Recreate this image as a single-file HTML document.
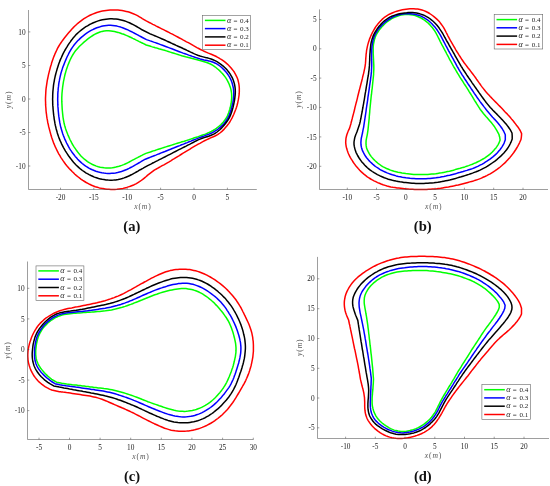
<!DOCTYPE html>
<html lang="en"><head><meta charset="utf-8"><title>Figure</title>
<style>
html,body{margin:0;padding:0;background:#fff;}
body{width:550px;height:486px;overflow:hidden;}
svg{display:block;}
text{font-family:"Liberation Serif","DejaVu Serif",serif;fill:#3a3a3a;}
.tk{font-size:7.3px;fill:#1c1c1c;}
.al{font-size:7.6px;letter-spacing:0.9px;fill:#555;}
.it{font-style:italic;}
.lg{font-size:7px;fill:#222;}
.eq{font-size:8.6px;}
.al2{font-size:8px;}
.cap{font-size:14.6px;font-weight:bold;fill:#111;}
</style></head><body>
<svg width="550" height="486" viewBox="0 0 550 486">
<rect width="550" height="486" fill="#fff"/>
<g class="plot" id="plot-a">
<path d="M65.5 72.7L66.1 70.6L66.7 68.7L67.3 66.9L68 65.1L68.7 63.4L69.4 61.6L70.2 59.8L71 58.1L71.9 56.3L73 54.5L74.2 52.6L75.5 50.8L76.9 49.2L78.2 47.7L79.5 46.3L80.9 45L82.3 43.7L83.7 42.4L85.2 41.2L86.7 39.9L88.2 38.7L89.6 37.6L91.1 36.6L92.8 35.5L94.6 34.4L96.4 33.5L98.2 32.7L100 32L102 31.4L104.1 31L106.4 30.8L108.8 30.7L111 30.9L112.8 31.2L114.5 31.5L116.2 31.9L118.1 32.4L120 33L121.9 33.7L123.8 34.3L125.6 35.1L127.5 35.9L129.3 36.7L131.1 37.5L132.8 38.4L134.6 39.2L136.3 40.1L137.9 40.9L139.3 41.6L140.6 42.2L141.7 42.8L142.6 43.2L146.2 45L150.7 46.3L151.5 46.6L152.6 46.9L153.9 47.2L155.3 47.7L157 48.1L158.8 48.7L160.7 49.2L162.6 49.8L164.5 50.3L166.4 50.9L168.3 51.5L170.2 52.1L172.1 52.7L174 53.3L175.9 53.9L177.9 54.5L179.8 55.1L181.7 55.7L183.6 56.2L185.6 56.8L187.5 57.3L189.5 57.8L191.4 58.3L193.3 58.8L195.2 59.3L197.2 59.8L199 60.3L200.8 60.7L202.6 61.2L204.2 61.7L205.9 62.2L208 63L210.4 64L212.5 65.2L214.3 66.3L215.9 67.5L217.3 68.7L218.6 69.8L220 71.1L221.3 72.5L222.6 73.8L223.8 75.3L225.1 76.9L226.3 78.7L227.3 80.4L228.2 82.1L229.1 84L229.8 85.9L230.4 87.6L230.9 89.4L231.3 91.5L231.6 93.7L231.7 95.8L231.7 98.1L231.5 100.1L231.3 101.8L231.1 103.5L230.7 105.3L230.3 107.3L229.8 109.3L229.2 111.1L228.7 112.7L228 114.4L227.3 116.1L226.3 118L224.7 120.3L223.2 122.3L221.9 123.6L220.7 124.8L219.3 126L217.9 127.2L216.4 128.3L214.8 129.4L213.1 130.5L211.2 131.5L209.3 132.4L207.3 133.3L205.4 134.1L203.6 134.7L201.9 135.3L200.1 135.9L198.3 136.6L196.4 137.2L194.5 137.8L192.6 138.5L190.7 139.1L188.8 139.8L186.9 140.4L185 141L183.1 141.6L181.2 142.1L179.2 142.7L177.3 143.3L175.4 143.9L173.5 144.5L171.6 145.1L169.7 145.7L167.8 146.3L165.9 146.9L163.9 147.5L162 148.1L160.2 148.7L158.3 149.3L156.5 149.9L154.9 150.5L153.4 150.9L152.2 151.3L151.1 151.7L150.3 152L145.9 153.4L142.2 155.2L141.3 155.6L140.3 156.2L138.9 156.8L137.5 157.6L135.9 158.4L134.2 159.3L132.5 160.2L130.8 161.1L129.2 162L127.6 162.8L125.7 163.7L123.7 164.6L121.7 165.4L119.9 166L118 166.6L115.9 167.1L114.1 167.4L112.3 167.7L110.3 167.9L108.1 168L106 167.9L104.2 167.8L102.2 167.5L100.2 167.2L98.3 166.7L96.4 166.1L94.3 165.3L92.5 164.5L90.9 163.6L89.2 162.7L87.5 161.6L86 160.4L84.4 159.2L82.8 157.7L81.2 156.2L79.9 154.7L78.7 153.3L77.5 151.8L76.4 150.3L75.3 148.7L74.2 147.1L73.1 145.3L72 143.5L71.1 141.7L70.2 140L69.4 138.2L68.6 136.4L67.8 134.6L67.1 132.8L66.4 130.9L65.7 129L65.1 127.1L64.6 125.3L64.1 123.3L63.7 121.1L63.3 119L63 117.1L62.8 115.2L62.6 113.3L62.4 111.3L62.2 109.3L62.1 107.4L62 105.4L61.9 103.4L61.8 101.4L61.8 99.4L61.8 97.4L61.9 95.3L62 93.3L62.2 91.3L62.4 89.4L62.6 87.4L62.9 85.4L63.2 83.4L63.5 81.4L63.9 79.6L64.3 77.7L64.7 75.8L65.2 73.8Z" fill="none" stroke="#00ff00" stroke-width="1.5" stroke-linejoin="round"/>
<path d="M61.1 72.7L61.8 70.6L62.4 68.6L63 66.8L63.7 65.1L64.4 63.3L65.1 61.5L65.9 59.6L66.7 57.7L67.5 56L68.4 54.3L69.2 52.6L70.2 50.8L71.3 49L72.4 47.4L73.5 45.8L74.9 44L76.4 42.3L77.7 40.8L79 39.6L80.2 38.4L81.6 37.1L83.2 35.8L85 34.4L86.7 33.2L88.2 32.2L89.8 31.2L91.6 30.2L93.4 29.3L95.1 28.5L96.8 27.8L98.7 27.2L100.7 26.6L102.7 26.1L104.5 25.7L106.6 25.5L108.7 25.3L110.6 25.3L112.6 25.4L114.9 25.7L117 26.1L118.8 26.6L120.7 27.1L122.6 27.8L124.4 28.5L126.2 29.2L127.9 29.9L129.7 30.8L131.6 31.7L133.3 32.6L135 33.5L136.6 34.3L138.1 35.1L139.4 35.9L140.6 36.5L141.6 37L142.4 37.5L146.5 39.6L150.3 40.9L151.3 41.2L152.4 41.6L153.7 42.1L155.3 42.6L157 43.2L158.8 43.9L160.6 44.6L162.5 45.3L164.4 46L166.3 46.7L168.1 47.4L170 48.1L171.9 48.8L173.7 49.5L175.6 50.3L177.5 51L179.3 51.7L181.2 52.4L183.1 53.1L185 53.7L186.9 54.4L188.7 55.1L190.6 55.7L192.4 56.4L194.2 57L196 57.6L198.1 58.3L200.1 58.9L202.1 59.4L204 59.9L205.7 60.2L207.1 60.5L208.8 60.9L211 61.5L213.3 62.3L215.4 63.2L217.5 64.4L219.1 65.5L220.5 66.5L221.9 67.8L223.3 69.1L224.6 70.4L225.8 71.8L227.2 73.5L228.3 75.1L229.3 76.7L230.2 78.4L231.2 80.4L231.9 82.3L232.4 84L232.9 86L233.4 88.2L233.6 90.1L233.7 92L233.8 94L233.7 96.1L233.5 98.1L233.3 100.1L232.9 102.2L232.5 104L232.1 105.8L231.7 107.5L231.2 109.3L230.7 110.9L230.1 112.7L229.4 114.8L228.4 116.9L227.5 118.6L226.5 120.3L225.1 122.2L223.7 123.9L222.5 125.2L221.2 126.4L219.8 127.7L218.2 129L216.6 130.1L214.9 131.2L212.9 132.3L210.9 133.3L209.1 134.1L207.4 134.8L205.6 135.4L203.9 136.1L202.1 136.7L200.2 137.4L198.3 138.1L196.5 138.9L194.6 139.6L192.8 140.3L190.9 141.1L189.1 141.8L187.2 142.6L185.4 143.3L183.5 144.1L181.6 144.8L179.8 145.6L177.9 146.3L176.1 147L174.2 147.8L172.3 148.5L170.5 149.3L168.6 150L166.8 150.7L164.9 151.5L163 152.2L161.2 152.9L159.3 153.7L157.5 154.4L155.8 155.1L154.2 155.7L152.7 156.3L151.5 156.7L150.5 157.1L149.6 157.5L145.3 159.2L141.8 161.2L141 161.7L139.9 162.3L138.7 163L137.3 163.8L135.8 164.7L134.2 165.6L132.5 166.6L130.7 167.5L129 168.4L127.3 169.2L125.4 170L123.4 170.8L121.5 171.5L119.6 172L117.6 172.5L115.5 172.9L113.6 173.2L111.8 173.3L109.8 173.4L107.7 173.4L105.7 173.3L103.9 173.1L101.8 172.8L99.6 172.3L97.7 171.8L95.9 171.2L94.1 170.5L92.3 169.8L90.6 169L88.9 168.1L87.1 167L85.3 165.8L83.7 164.7L82.2 163.5L80.7 162.1L79.1 160.6L77.7 159.2L76.5 157.8L75.2 156.4L74 154.8L72.8 153.2L71.7 151.7L70.6 150.1L69.5 148.3L68.4 146.4L67.5 144.7L66.6 143L65.8 141.2L64.9 139.4L64.2 137.5L63.4 135.6L62.8 133.9L62.2 132L61.6 130L61 128.1L60.5 126.1L60.1 124.2L59.7 122.2L59.4 120.1L59.1 118.1L58.8 116.2L58.6 114.3L58.4 112.3L58.2 110.3L58.1 108.4L57.9 106.4L57.8 104.4L57.8 102.4L57.7 100.4L57.7 98.4L57.8 96.4L57.8 94.3L57.9 92.4L58.1 90.4L58.2 88.5L58.5 86.4L58.7 84.4L59 82.3L59.4 80.4L59.7 78.6L60.1 76.8L60.6 74.8Z" fill="none" stroke="#0000ff" stroke-width="1.5" stroke-linejoin="round"/>
<path d="M56.1 72.6L56.7 70.6L57.2 68.7L57.8 66.9L58.4 65.1L59 63.3L59.7 61.4L60.5 59.4L61.4 57.5L62.2 55.6L63 53.9L63.9 52.2L64.8 50.5L65.9 48.6L67 46.9L68 45.2L69 43.6L70.1 42.1L71.2 40.5L72.4 39L73.6 37.4L75.1 35.8L76.6 34.1L78.1 32.7L79.5 31.5L80.9 30.4L82.5 29.1L84.2 27.8L85.9 26.7L87.5 25.8L89.1 24.8L91 23.9L92.8 23L94.6 22.3L96.2 21.6L98.2 20.9L100.3 20.3L102.4 19.8L104.2 19.5L106 19.2L108 19L110.1 18.8L112 18.8L113.9 18.9L116 19L118 19.3L120 19.7L122.2 20.2L124.2 20.8L126 21.4L127.7 22.1L129.4 22.8L131.3 23.7L133.2 24.6L135 25.6L136.6 26.5L138 27.3L139.4 28.1L140.6 28.9L141.6 29.5L142.5 30L150.2 33.9L151.1 34.2L152.1 34.6L153.3 35.1L154.7 35.7L156.3 36.4L158 37.1L159.8 37.9L161.6 38.7L163.5 39.5L165.3 40.3L167.1 41.2L168.9 42L170.7 42.8L172.5 43.7L174.4 44.5L176.2 45.4L178 46.2L179.8 47L181.6 47.8L183.5 48.7L185.3 49.5L187.1 50.4L188.8 51.2L190.6 52.1L192.3 52.8L193.9 53.6L195.6 54.4L197.7 55.2L200 56L202.2 56.6L204 57.1L205.5 57.5L207 57.8L209 58.4L211.1 59L213 59.8L215 60.6L217 61.7L218.8 62.8L220.2 63.8L221.6 64.9L223.2 66.1L224.7 67.5L226 68.8L227.2 70.1L228.5 71.7L229.9 73.6L230.9 75.3L231.8 76.9L232.7 78.7L233.4 80.6L234 82.4L234.5 84.2L234.9 86.4L235.2 88.7L235.3 90.7L235.3 92.6L235.2 94.6L235 96.4L234.8 98.3L234.5 100.3L234.1 102.4L233.7 104.3L233.3 106.1L232.9 107.9L232.4 109.5L232 111.1L231.4 112.8L230.6 114.9L229.4 117.6L228.1 119.8L227.1 121.3L226.2 122.5L225.3 123.8L224.1 125.2L222.7 126.8L221.2 128.4L219.8 129.7L218.5 130.8L217.1 132L215.6 133L213.7 134.1L211.1 135.3L208.6 136.3L207.1 136.7L205.9 137L204.2 137.6L202.2 138.3L200.1 139.1L198.1 139.9L196.4 140.8L194.7 141.6L193.1 142.5L191.3 143.4L189.6 144.3L187.8 145.2L186.1 146.1L184.3 147L182.5 147.9L180.7 148.8L178.9 149.7L177.1 150.6L175.4 151.5L173.6 152.4L171.8 153.4L170 154.3L168.2 155.2L166.4 156.1L164.7 157L162.9 157.9L161.1 158.8L159.3 159.7L157.6 160.6L156 161.4L154.6 162.1L153.3 162.8L152.2 163.3L151.3 163.8L147.7 165.6L143.6 167.9L142.9 168.3L141.9 168.8L140.8 169.5L139.4 170.2L138 171.1L136.4 172L134.8 172.9L133.1 173.8L131.3 174.8L129.4 175.7L127.6 176.5L125.9 177.2L124.1 177.9L122.3 178.5L120.5 179L118.2 179.5L115.7 179.9L113.6 180.1L111.9 180.2L110.2 180.2L108.2 180.1L106 179.9L104 179.6L102.2 179.3L100.5 178.9L98.6 178.5L96.5 177.8L94.4 177.1L92.6 176.3L90.9 175.5L89.1 174.6L87.4 173.7L85.8 172.8L84.2 171.7L82.4 170.5L80.7 169.2L79.2 167.9L77.8 166.6L76.3 165.2L74.9 163.7L73.5 162.2L72.3 160.7L71.2 159.3L70 157.7L68.7 156L67.6 154.3L66.5 152.7L65.5 151.1L64.5 149.3L63.5 147.6L62.6 145.8L61.7 144.1L60.9 142.3L60 140.4L59.2 138.4L58.5 136.5L57.9 134.7L57.3 132.9L56.8 131L56.2 129L55.8 127.1L55.3 125.2L54.9 123.2L54.6 121.1L54.2 119.1L54 117.1L53.7 115.2L53.5 113.3L53.3 111.3L53.1 109.3L53 107.4L52.8 105.4L52.7 103.4L52.7 101.3L52.6 99.3L52.7 97.3L52.7 95.3L52.8 93.3L52.9 91.4L53.1 89.5L53.3 87.5L53.5 85.4L53.8 83.3L54.2 81.3L54.5 79.4L54.9 77.6L55.3 75.7L55.8 73.7Z" fill="none" stroke="#000000" stroke-width="1.5" stroke-linejoin="round"/>
<path d="M49 72.6L49.5 70.6L50 68.7L50.5 66.8L51.1 65L51.6 63.1L52.2 61.3L52.9 59.3L53.6 57.3L54.4 55.4L55.1 53.6L55.9 51.9L56.7 50.2L57.5 48.4L58.6 46.5L59.7 44.6L60.8 43L61.9 41.4L63.1 39.7L64.4 38L65.6 36.5L66.8 35L68 33.6L69.3 32.1L70.5 30.7L71.7 29.3L73 27.9L74.6 26.3L76.3 24.7L77.8 23.3L79.3 22.2L80.7 21.1L82.3 19.9L84 18.7L85.8 17.6L87.4 16.7L88.9 15.8L90.6 15L92.6 14.1L94.9 13.2L96.8 12.5L98.6 12L100.3 11.5L102.3 11.1L104.2 10.7L106.1 10.4L108 10.2L110.1 10L112.3 9.9L114.4 9.9L116.2 10L117.9 10.1L119.8 10.3L122.1 10.6L124.3 11L126.2 11.4L127.9 11.8L129.6 12.3L131.4 13L133.3 13.7L135.4 14.6L137.5 15.7L139.4 16.8L140.9 17.7L142.3 18.6L144 19.6L145.8 20.7L147.6 21.6L149.3 22.5L151.1 23.4L152.8 24.3L154.6 25.2L156.3 26.1L158.1 27L159.9 27.9L161.7 28.8L163.5 29.7L165.3 30.6L167.1 31.5L168.9 32.4L170.6 33.3L172.4 34.2L174.2 35.2L176 36.1L177.7 37L179.5 38L181.3 38.9L183 39.9L184.8 40.8L186.5 41.8L188.3 42.7L190.1 43.7L191.8 44.7L193.5 45.7L195.2 46.6L196.9 47.6L198.7 48.5L200.5 49.5L202.4 50.4L204.2 51.3L206 52.1L207.8 52.9L209.6 53.6L211.3 54.3L212.9 55L214.7 55.8L216.8 56.8L218.7 57.8L220.3 58.8L222 59.8L223.8 61.1L225.4 62.4L226.8 63.6L228.1 64.8L229.5 66.2L230.9 67.7L232.1 69.2L233.2 70.6L234.4 72.3L235.5 74.3L236.4 76.1L237.2 77.8L237.9 79.8L238.4 81.8L238.8 83.6L239.1 85.6L239.3 87.9L239.3 90L239.3 91.9L239.2 93.7L239 95.6L238.7 97.5L238.4 99.4L238 101.4L237.6 103.3L237.1 105.2L236.5 107.2L235.8 109.2L235.1 111L234.4 112.8L233.7 114.5L232.9 116.2L232.1 117.8L231.2 119.5L230.1 121.5L228.7 123.6L227.4 125.3L226.4 126.6L225.3 127.8L224.2 129.1L222.9 130.4L221.6 131.7L219.9 133L217.6 134.6L215 136L213.3 136.8L212 137.3L210.6 137.9L208.8 138.7L206.9 139.6L205 140.5L203.3 141.4L201.6 142.3L199.9 143.3L198.2 144.2L196.5 145.2L194.7 146.2L193 147.2L191.3 148.2L189.6 149.3L187.8 150.3L186.1 151.3L184.4 152.4L182.7 153.4L181 154.5L179.3 155.6L177.6 156.6L175.9 157.7L174.3 158.7L172.5 159.7L170.8 160.8L169.1 161.8L167.3 162.8L165.6 163.8L163.9 164.8L162.2 165.7L160.5 166.7L159 167.5L157.5 168.3L156.3 169L155.2 169.6L154.3 170.2L147.4 175.4L146.9 175.9L146.2 176.5L145.2 177.3L144 178.3L142.7 179.4L141.2 180.5L139.5 181.7L137.6 182.8L135.9 183.8L134.2 184.7L132.3 185.5L130.3 186.3L128.4 186.9L126.7 187.4L124.8 187.9L123 188.4L121.2 188.7L119.2 189L116.9 189.3L114.7 189.4L112.7 189.5L110.9 189.4L109 189.3L106.9 189.2L105 188.9L103.1 188.6L101.4 188.3L99.4 187.9L97.3 187.3L95.3 186.7L93.5 186L91.6 185.2L89.6 184.3L87.9 183.4L86.2 182.5L84.6 181.5L82.8 180.4L81.2 179.3L79.7 178.2L78.2 177L76.5 175.6L74.9 174.2L73.5 172.8L72.1 171.5L70.8 170.1L69.4 168.7L68.1 167.2L66.8 165.7L65.6 164.2L64.5 162.7L63.2 160.9L62 159.1L60.8 157.4L59.9 155.7L58.9 154.1L58 152.4L57.1 150.6L56.2 148.7L55.3 146.9L54.6 145.2L53.8 143.4L53.1 141.5L52.4 139.5L51.7 137.5L51.1 135.6L50.6 133.8L50.1 131.9L49.6 130L49.1 128.1L48.6 126.2L48.2 124.2L47.7 122.2L47.4 120.2L47 118.2L46.7 116.3L46.5 114.3L46.2 112.3L46 110.3L45.9 108.3L45.7 106.3L45.6 104.4L45.6 102.4L45.5 100.4L45.5 98.4L45.6 96.3L45.7 94.3L45.8 92.3L45.9 90.4L46.1 88.4L46.4 86.4L46.7 84.3L47 82.3L47.3 80.4L47.7 78.5L48.1 76.6L48.5 74.6Z" fill="none" stroke="#ff0000" stroke-width="1.5" stroke-linejoin="round"/>
<path d="M28.5 10V189.5H256.8M60.5 189.5v-1.8M93.8 189.5v-1.8M127.2 189.5v-1.8M160.6 189.5v-1.8M194 189.5v-1.8M227.4 189.5v-1.8M28.5 31.9h1.8M28.5 65.5h1.8M28.5 99h1.8M28.5 132.5h1.8M28.5 166h1.8" fill="none" stroke="#4d4d4d" stroke-width="0.55"/>
<text class="tk" x="60.5" y="199.9" text-anchor="middle">-20</text>
<text class="tk" x="93.8" y="199.9" text-anchor="middle">-15</text>
<text class="tk" x="127.2" y="199.9" text-anchor="middle">-10</text>
<text class="tk" x="160.6" y="199.9" text-anchor="middle">-5</text>
<text class="tk" x="194" y="199.9" text-anchor="middle">0</text>
<text class="tk" x="227.4" y="199.9" text-anchor="middle">5</text>
<text class="tk" x="25.6" y="34.5" text-anchor="end">10</text>
<text class="tk" x="25.6" y="68.1" text-anchor="end">5</text>
<text class="tk" x="25.6" y="101.6" text-anchor="end">0</text>
<text class="tk" x="25.6" y="135.1" text-anchor="end">-5</text>
<text class="tk" x="25.6" y="168.6" text-anchor="end">-10</text>
<text class="al" x="142.9" y="208.6" text-anchor="middle"><tspan class="it">x</tspan>(<tspan class="it">m</tspan>)</text>
<text class="al" transform="translate(10.8 99.4) rotate(-90)" text-anchor="middle"><tspan class="it">y</tspan>(<tspan class="it">m</tspan>)</text>
<rect x="202.6" y="15.3" width="48" height="34.3" fill="#fff" stroke="#666" stroke-width="0.6"/>
<path d="M204.9 20.4h20.6" stroke="#00ff00" stroke-width="1.5"/>
<text class="lg" y="22.5"><tspan class="it al2" x="226.9">α</tspan><tspan x="233.5">=</tspan><tspan x="240.1">0.4</tspan></text>
<path d="M204.9 28.6h20.6" stroke="#0000ff" stroke-width="1.5"/>
<text class="lg" y="30.7"><tspan class="it al2" x="226.9">α</tspan><tspan x="233.5">=</tspan><tspan x="240.1">0.3</tspan></text>
<path d="M204.9 36.9h20.6" stroke="#000000" stroke-width="1.5"/>
<text class="lg" y="39"><tspan class="it al2" x="226.9">α</tspan><tspan x="233.5">=</tspan><tspan x="240.1">0.2</tspan></text>
<path d="M204.9 45.2h20.6" stroke="#ff0000" stroke-width="1.5"/>
<text class="lg" y="47.3"><tspan class="it al2" x="226.9">α</tspan><tspan x="233.5">=</tspan><tspan x="240.1">0.1</tspan></text>
<text class="cap" x="131.8" y="231.2" text-anchor="middle">(a)</text>
</g>
<g class="plot" id="plot-b">
<path d="M373.6 73.4L373.7 71.4L373.8 69.4L373.8 67.4L373.8 65.3L373.7 63.2L373.6 61.2L373.5 59.3L373.4 57.4L373.3 55.4L373.2 53.5L373.2 51.5L373.2 49.6L373.2 47.8L373.3 46L373.5 44L373.9 42L374.4 39.8L375.1 37.6L375.9 35.5L376.9 33.6L377.9 32L379 30.4L380.1 28.9L381.3 27.5L382.5 26.1L383.9 24.7L385.4 23.3L386.9 22L388.4 20.9L390 19.8L391.7 18.7L393.4 17.8L395.2 17L397.3 16.2L399.2 15.6L401.1 15.1L403 14.8L404.9 14.6L406.8 14.5L408.8 14.5L410.8 14.7L413 15.1L415.2 15.6L417.1 16.3L418.8 17L420.3 17.7L421.9 18.5L423.5 19.5L425.4 20.8L427.3 22.3L428.7 23.6L430 24.9L431.3 26.4L432.5 27.8L433.5 29.2L434.7 30.9L435.9 32.9L437 35L437.9 36.7L438.6 38.2L439.5 39.9L440.3 41.6L441.2 43.4L442.1 45.2L443.1 46.9L444 48.7L444.9 50.4L445.9 52.2L446.8 54L447.7 55.7L448.7 57.5L449.6 59.3L450.6 61L451.6 62.8L452.5 64.5L453.5 66.3L454.5 68L455.5 69.7L456.5 71.5L457.5 73.2L458.6 74.9L459.6 76.6L460.7 78.3L461.8 80L462.9 81.7L463.9 83.4L465 85L466.1 86.7L467.2 88.4L468.3 90.1L469.3 91.8L470.4 93.5L471.4 95.2L472.5 96.9L473.5 98.6L474.5 100.3L475.6 102L476.6 103.7L477.7 105.4L478.8 107.1L479.8 108.7L480.9 110.2L482.1 111.8L483.4 113.5L484.9 115.3L486.2 116.8L487.4 118.1L488.6 119.4L489.9 120.9L491.3 122.6L492.5 124.1L493.6 125.5L494.6 126.9L495.5 128.3L496.3 129.6L496.9 130.7L498.9 134.3L499.5 136.7L499.6 136.9L499.7 137.4L500.1 140.1L498.9 143.2L498 144.8L497 146.4L496 147.9L494.9 149.1L493.7 150.5L492.3 152L491 153.2L489.7 154.4L488.1 155.6L486.3 156.9L484.6 158.1L483 159L481.4 159.9L479.7 160.9L477.8 161.8L475.9 162.7L474.1 163.4L472.4 164.2L470.5 164.9L468.6 165.6L466.7 166.2L464.8 166.9L462.9 167.4L461 168L459.1 168.6L457.2 169.1L455.3 169.6L453.4 170.2L451.5 170.7L449.5 171.2L447.5 171.6L445.5 172.1L443.6 172.4L441.7 172.8L439.7 173.1L437.6 173.4L435.7 173.7L433.7 173.9L431.7 174.1L429.7 174.3L427.7 174.5L425.7 174.6L423.7 174.6L421.8 174.6L419.7 174.6L417.7 174.6L415.7 174.5L413.7 174.4L411.7 174.2L409.8 174L407.7 173.8L405.8 173.6L403.9 173.3L402 173L400 172.6L398 172.2L396 171.7L394.1 171.2L392.4 170.7L390.5 170.1L388.5 169.3L386.5 168.5L384.8 167.6L383.2 166.8L381.5 165.8L379.7 164.5L378 163.3L376.6 162.1L375.1 160.8L373.7 159.4L372.5 158.1L371.3 156.6L370.1 155L369.1 153.4L368.2 151.7L367.3 149.9L366.6 148L366.2 145.9L366 143.4L366.1 140.7L366.5 138.4L366.8 136.9L367.1 135.6L367.4 133.8L367.7 131.8L368 129.8L368.2 127.9L368.4 126L368.6 124L368.8 122.1L369 120.1L369.2 118.1L369.3 116.1L369.5 114.1L369.7 112.2L369.8 110.2L370 108.2L370.2 106.2L370.4 104.2L370.6 102.2L370.8 100.2L371 98.2L371.2 96.2L371.5 94.2L371.7 92.2L371.9 90.2L372.2 88.3L372.4 86.3L372.6 84.3L372.8 82.3L373 80.3L373.2 78.4L373.4 76.4L373.6 74.4Z" fill="none" stroke="#00ff00" stroke-width="1.5" stroke-linejoin="round"/>
<path d="M371.4 71.9L371.5 69.8L371.6 67.8L371.7 65.8L371.7 63.7L371.7 61.8L371.6 59.9L371.6 57.9L371.6 56L371.6 54L371.7 52L371.7 50L371.9 48.1L372 46.3L372.3 44.4L372.6 42.5L373 40.6L373.6 38.4L374.4 36.1L375.3 34.2L376.2 32.5L377.2 30.9L378.2 29.4L379.5 27.7L380.9 26.1L382.2 24.8L383.5 23.5L385 22.2L386.4 21.1L388 19.9L389.7 18.8L391.4 17.8L393.1 16.9L395 16.1L397.2 15.3L399.2 14.7L401 14.3L402.9 14L404.8 13.8L406.7 13.7L408.6 13.7L410.6 13.8L412.5 14L414.5 14.3L416.4 14.7L418.4 15.2L420.4 15.9L422.3 16.8L424 17.7L425.8 18.8L427.5 19.9L428.9 21L430.3 22.3L431.9 23.8L433.4 25.4L434.7 26.8L435.7 28.1L436.8 29.5L438 31.3L439.3 33.3L440.4 35.1L441.3 36.8L442.1 38.4L443 40.1L443.9 41.8L444.8 43.5L445.7 45.3L446.7 47.1L447.6 48.8L448.5 50.6L449.5 52.4L450.5 54.1L451.4 55.9L452.4 57.6L453.4 59.3L454.3 61.1L455.3 62.9L456.2 64.6L457.1 66.3L458.1 68L459.1 69.9L460.2 71.7L461.3 73.4L462.3 75.1L463.4 76.7L464.4 78.4L465.5 80L466.6 81.7L467.7 83.4L468.8 85L469.9 86.7L471 88.4L472.1 90L473.2 91.7L474.3 93.4L475.5 95L476.6 96.6L477.7 98.3L478.9 99.9L480.1 101.6L481.3 103.2L482.5 104.8L483.7 106.4L484.9 107.9L486.1 109.5L487.3 111L488.6 112.5L489.9 114.1L491.3 115.7L492.6 117.2L493.9 118.6L495.2 119.9L496.4 121.3L497.7 122.8L498.9 124.2L500 125.6L501 127L502.1 128.5L502.9 129.9L503.6 131L505.3 134.8L505.3 137.1L505.3 137.8L505.3 139.8L504.1 143.1L503.6 144.1L502.9 145.3L502 146.8L501 148.3L500 149.7L498.8 151.1L497.4 152.7L496 154.1L494.6 155.4L493.2 156.6L491.6 157.8L490 159.1L488.4 160.2L486.9 161.2L485.3 162.2L483.6 163.3L481.8 164.3L480 165.2L478.3 166.1L476.6 166.9L474.6 167.8L472.5 168.6L470.6 169.2L468.7 169.8L466.9 170.4L465.1 170.9L463.2 171.5L461.3 172L459.4 172.6L457.5 173.1L455.5 173.7L453.6 174.2L451.7 174.7L449.7 175.2L447.7 175.6L445.8 176.1L443.9 176.5L441.9 176.8L439.9 177.2L437.9 177.5L435.9 177.8L434 178L432 178.2L430 178.4L428 178.5L426 178.7L424.1 178.8L422.1 178.8L420.1 178.8L418 178.8L415.9 178.7L414 178.6L412.1 178.5L410.1 178.3L408 178L406 177.8L404.1 177.5L402.3 177.2L400.4 176.8L398.4 176.4L396.2 175.9L394.2 175.3L392.4 174.8L390.7 174.2L389 173.6L387.1 172.9L385.1 172L383.2 171.1L381.5 170.3L379.8 169.3L378.1 168.2L376.3 167L374.7 165.8L373.3 164.7L371.9 163.4L370.4 162L369 160.6L367.9 159.2L366.6 157.7L365.4 156L364.4 154.4L363.5 152.7L362.6 150.9L361.9 149.1L361.4 147.2L361 145L360.9 142.5L361.1 139.9L361.4 137.7L361.8 136.1L362.1 134.6L362.5 133L362.8 131.1L363.2 129.2L363.6 127.3L363.9 125.3L364.2 123.3L364.5 121.3L364.8 119.4L365.1 117.4L365.4 115.4L365.7 113.5L366 111.5L366.2 109.5L366.5 107.5L366.8 105.5L367.1 103.6L367.4 101.6L367.7 99.6L367.9 97.6L368.2 95.6L368.5 93.6L368.8 91.7L369.1 89.7L369.4 87.7L369.6 85.7L369.9 83.8L370.2 81.8L370.5 79.8L370.7 77.9L371 76L371.2 74Z" fill="none" stroke="#0000ff" stroke-width="1.5" stroke-linejoin="round"/>
<path d="M369 70.1L369.2 68L369.4 65.9L369.5 63.9L369.6 61.9L369.7 60L369.7 58L369.8 56L369.9 54L370.1 52.1L370.2 50.2L370.4 48.4L370.6 46.5L370.8 44.5L371.2 42.4L371.7 40.4L372.3 38.4L373 36.4L373.8 34.6L374.8 32.7L375.9 30.8L377 29.2L378 27.7L379.1 26.3L380.3 25L381.6 23.5L383.1 22L384.7 20.6L386.2 19.5L387.9 18.3L389.8 17.2L391.6 16.3L393.4 15.6L395.5 14.9L397.6 14.3L399.4 13.8L401.1 13.5L402.9 13.2L404.7 12.9L406.6 12.8L408.6 12.6L410.5 12.6L412.5 12.6L414.6 12.8L416.6 13.1L418.7 13.5L420.7 14.1L422.6 14.7L424.3 15.4L426.1 16.3L427.9 17.3L429.7 18.5L431.3 19.8L432.8 21L434.1 22.2L435.6 23.7L437 25.3L438.2 26.8L439.3 28.3L440.5 30.1L441.7 31.9L442.7 33.5L443.6 35.2L444.5 36.8L445.5 38.5L446.4 40.3L447.4 42L448.4 43.7L449.3 45.5L450.3 47.2L451.3 49L452.3 50.7L453.3 52.5L454.3 54.2L455.2 56L456.2 57.7L457.2 59.4L458.2 61.2L459.2 62.9L460.2 64.6L461.2 66.3L462.3 68L463.3 69.8L464.5 71.5L465.6 73.2L466.7 74.9L467.8 76.5L468.9 78.1L470.1 79.8L471.2 81.4L472.3 83.1L473.5 84.7L474.6 86.3L475.8 88L476.9 89.6L478.1 91.3L479.2 92.9L480.4 94.5L481.5 96.1L482.7 97.8L483.8 99.3L485 100.9L486.2 102.5L487.5 104.1L488.9 105.8L490.3 107.4L491.6 108.8L492.9 110.2L494.3 111.6L495.7 113L497.1 114.4L498.4 115.8L499.8 117.2L501.1 118.6L502.5 120L503.8 121.4L505.1 122.9L506.3 124.3L507.3 125.6L508.2 126.8L509.2 128.2L510.2 129.6L512 133L512.2 135.7L512.2 136L512.2 136.7L512.2 139L510.9 142.4L510.6 142.9L510.1 144L509.4 145.4L508.5 146.9L507.6 148.3L506.6 149.7L505.3 151.3L503.9 152.9L502.6 154.3L501.3 155.6L499.9 156.9L498.3 158.3L496.8 159.6L495.3 160.8L493.8 161.9L492.2 163L490.5 164.2L488.7 165.3L487.1 166.4L485.5 167.3L483.8 168.2L482 169.1L480 170.1L478 171L476.1 171.8L474.3 172.4L472.5 173.1L470.7 173.7L468.8 174.4L466.9 175L465 175.6L463.1 176.2L461.2 176.8L459.3 177.3L457.4 177.9L455.5 178.5L453.6 179L451.7 179.5L449.7 180L447.6 180.4L445.7 180.8L443.7 181.2L441.8 181.6L439.8 181.9L437.8 182.2L435.8 182.4L433.9 182.7L431.9 182.9L429.9 183L427.9 183.2L425.8 183.3L423.9 183.4L421.9 183.4L419.9 183.4L417.9 183.4L415.9 183.4L413.9 183.3L412 183.2L409.9 183L407.9 182.8L405.8 182.6L403.9 182.4L401.9 182.1L400 181.8L398 181.4L396.1 181.1L394.2 180.7L392.4 180.3L390.5 179.8L388.3 179.2L386.2 178.4L384.3 177.7L382.6 177L380.9 176.3L379.1 175.4L377.4 174.6L375.8 173.7L374.1 172.7L372.3 171.5L370.3 170.1L368.7 168.8L367.4 167.7L366 166.4L364.6 165L363.4 163.6L362.1 162.2L360.9 160.6L359.6 158.8L358.5 157L357.6 155.5L356.8 153.9L356 152.3L355.4 150.6L354.8 148.6L354.3 146.4L354 144.3L354 142L354.4 139.6L354.8 137.5L355.4 135.8L355.9 134.3L356.4 133.2L356.7 132.4L357 131.7L359.7 123.7L359.9 122.8L360.2 121.7L360.4 120.4L360.8 118.8L361.1 117.1L361.4 115.3L361.8 113.4L362.2 111.5L362.5 109.5L362.9 107.5L363.2 105.6L363.6 103.6L363.9 101.6L364.3 99.6L364.6 97.7L364.9 95.7L365.2 93.7L365.6 91.7L365.9 89.8L366.2 87.8L366.5 85.8L366.9 83.8L367.2 81.9L367.5 79.9L367.8 77.9L368.2 76L368.5 74.1L368.7 72.1Z" fill="none" stroke="#000000" stroke-width="1.5" stroke-linejoin="round"/>
<path d="M364.3 70.2L364.7 68.3L365.1 66.1L365.4 63.9L365.6 61.7L365.7 59.9L365.8 58.1L366 56.2L366.1 54.3L366.4 52.3L366.6 50.3L367 48.3L367.4 46.4L367.9 44.4L368.5 42.3L369.1 40.4L369.7 38.6L370.5 36.8L371.3 34.9L372.1 33.2L373 31.5L373.9 29.8L375 28L376 26.4L377.1 25L378.3 23.4L379.8 21.7L381.3 20.2L382.6 18.9L384 17.7L385.9 16.4L387.8 15.2L389.4 14.2L391 13.5L392.8 12.7L394.8 11.9L396.8 11.2L398.6 10.7L400.5 10.2L402.4 9.8L404.2 9.5L406.1 9.2L408 9L409.9 8.8L411.8 8.7L413.8 8.7L415.8 8.9L417.8 9.1L419.9 9.5L422 10L423.9 10.6L425.9 11.5L427.9 12.5L429.6 13.5L431.1 14.5L432.5 15.5L433.9 16.6L435.4 17.9L437.1 19.4L438.5 20.8L439.7 22.1L440.9 23.7L442.3 25.6L443.5 27.4L444.5 29.1L445.4 30.8L446.2 32.5L447.1 34.1L447.9 35.8L448.9 37.6L449.8 39.4L450.8 41.2L451.8 42.9L452.8 44.6L453.8 46.3L454.8 48L455.8 49.8L456.8 51.5L457.9 53.2L458.9 54.9L460 56.5L461 58.1L462.1 59.8L463.3 61.5L464.5 63.3L465.8 64.9L467 66.5L468.1 68L469.4 69.5L470.6 71.1L471.8 72.7L473 74.3L474.2 75.9L475.4 77.5L476.5 79.2L477.7 80.8L478.8 82.4L480 84L481.1 85.6L482.2 87.1L483.4 88.6L484.7 90.3L486.1 92.1L487.6 93.7L488.9 95.1L490.2 96.5L491.6 97.9L492.9 99.3L494.3 100.7L495.7 102.1L497.1 103.5L498.5 105L499.9 106.4L501.3 107.8L502.7 109.3L504 110.7L505.4 112.2L506.8 113.6L508.1 115.1L509.5 116.6L510.8 118.1L512 119.6L513.3 121L514.4 122.5L515.5 123.9L516.5 125.2L517.5 126.4L518.4 127.7L519.3 129.1L520.2 130.5L521.6 133.6L521.5 135.6L521.4 136.3L521.4 136.9L521 139.5L519.5 142.8L519 143.8L518.4 145L517.7 146.4L516.7 148L515.8 149.5L514.8 151L513.8 152.5L512.6 154.1L511.3 155.8L510 157.4L508.7 158.8L507.4 160.2L506.1 161.6L504.6 163.1L503 164.5L501.6 165.8L500.2 167L498.7 168.1L497 169.4L495.2 170.7L493.4 171.8L491.8 172.8L490.2 173.8L488.5 174.7L486.8 175.6L484.9 176.5L483.1 177.3L481.4 178.1L479.5 178.9L477.5 179.6L475.4 180.3L473.5 180.9L471.6 181.4L469.8 181.9L467.9 182.4L466 182.9L464.1 183.4L462.2 183.9L460.2 184.4L458.3 184.9L456.3 185.3L454.4 185.8L452.4 186.2L450.5 186.6L448.5 187L446.5 187.3L444.6 187.6L442.6 187.9L440.6 188.2L438.6 188.4L436.6 188.7L434.6 188.9L432.6 189L430.6 189.2L428.6 189.3L426.6 189.4L424.6 189.5L422.7 189.5L420.7 189.5L418.6 189.5L416.6 189.5L414.6 189.4L412.7 189.3L410.7 189.2L408.6 189.1L406.6 188.9L404.6 188.7L402.7 188.5L400.7 188.3L398.8 188.1L397 187.9L395 187.6L393 187.3L390.8 186.9L388.9 186.4L387 186L385.1 185.4L383 184.7L381.1 184L379.4 183.3L377.6 182.6L375.8 181.7L374 180.8L372.3 179.9L370.7 179L369.1 178L367.3 176.8L365.5 175.4L363.9 174.1L362.5 172.9L361.1 171.6L359.7 170.2L358.2 168.6L356.9 167.1L355.8 165.7L354.6 164.1L353.4 162.5L352.3 160.7L351.3 159.2L350.4 157.6L349.5 155.9L348.6 154L347.9 152.2L347.3 150.5L346.7 148.6L346.2 146.6L345.9 144.6L345.7 142.6L345.8 140.4L346 138.1L346.5 136L347 134.2L347.5 132.9L347.8 132.1L348 131.5L349.6 128.1L350.9 123.7L351.1 122.8L351.4 121.8L351.7 120.5L352.1 119L352.5 117.3L353 115.5L353.5 113.6L354 111.7L354.5 109.8L354.9 107.8L355.4 105.9L355.9 103.9L356.4 102L356.9 100.1L357.4 98.1L357.8 96.2L358.3 94.2L358.8 92.3L359.3 90.3L359.8 88.4L360.3 86.5L360.8 84.5L361.3 82.6L361.8 80.7L362.3 78.7L362.7 76.8L363.2 74.9L363.7 73.1L364.1 71.2Z" fill="none" stroke="#ff0000" stroke-width="1.5" stroke-linejoin="round"/>
<path d="M319.5 9.4V189.5H548M347.3 189.5v-1.8M376.5 189.5v-1.8M405.8 189.5v-1.8M435.1 189.5v-1.8M464.4 189.5v-1.8M493.7 189.5v-1.8M523 189.5v-1.8M319.5 19.5h1.8M319.5 48.8h1.8M319.5 78.1h1.8M319.5 107.4h1.8M319.5 136.9h1.8M319.5 166.3h1.8" fill="none" stroke="#4d4d4d" stroke-width="0.55"/>
<text class="tk" x="347.3" y="199.9" text-anchor="middle">-10</text>
<text class="tk" x="376.5" y="199.9" text-anchor="middle">-5</text>
<text class="tk" x="405.8" y="199.9" text-anchor="middle">0</text>
<text class="tk" x="435.1" y="199.9" text-anchor="middle">5</text>
<text class="tk" x="464.4" y="199.9" text-anchor="middle">10</text>
<text class="tk" x="493.7" y="199.9" text-anchor="middle">15</text>
<text class="tk" x="523" y="199.9" text-anchor="middle">20</text>
<text class="tk" x="316.6" y="22.1" text-anchor="end">5</text>
<text class="tk" x="316.6" y="51.4" text-anchor="end">0</text>
<text class="tk" x="316.6" y="80.7" text-anchor="end">-5</text>
<text class="tk" x="316.6" y="110" text-anchor="end">-10</text>
<text class="tk" x="316.6" y="139.5" text-anchor="end">-15</text>
<text class="tk" x="316.6" y="168.9" text-anchor="end">-20</text>
<text class="al" x="433.7" y="208.6" text-anchor="middle"><tspan class="it">x</tspan>(<tspan class="it">m</tspan>)</text>
<text class="al" transform="translate(301 99) rotate(-90)" text-anchor="middle"><tspan class="it">y</tspan>(<tspan class="it">m</tspan>)</text>
<rect x="494.2" y="14.5" width="48.5" height="34.5" fill="#fff" stroke="#666" stroke-width="0.6"/>
<path d="M496.5 19.6h20.6" stroke="#00ff00" stroke-width="1.5"/>
<text class="lg" y="21.7"><tspan class="it al2" x="518.5">α</tspan><tspan x="525.1">=</tspan><tspan x="531.7">0.4</tspan></text>
<path d="M496.5 27.8h20.6" stroke="#0000ff" stroke-width="1.5"/>
<text class="lg" y="29.9"><tspan class="it al2" x="518.5">α</tspan><tspan x="525.1">=</tspan><tspan x="531.7">0.3</tspan></text>
<path d="M496.5 36.1h20.6" stroke="#000000" stroke-width="1.5"/>
<text class="lg" y="38.2"><tspan class="it al2" x="518.5">α</tspan><tspan x="525.1">=</tspan><tspan x="531.7">0.2</tspan></text>
<path d="M496.5 44.4h20.6" stroke="#ff0000" stroke-width="1.5"/>
<text class="lg" y="46.5"><tspan class="it al2" x="518.5">α</tspan><tspan x="525.1">=</tspan><tspan x="531.7">0.1</tspan></text>
<text class="cap" x="422.7" y="231.2" text-anchor="middle">(b)</text>
</g>
<g class="plot" id="plot-c">
<path d="M36.8 360.8L36.1 358.2L35.9 356.3L35.7 354.6L35.7 352.6L35.7 350.4L35.9 348.6L36.1 346.8L36.3 345.1L36.6 343.3L37 341.5L37.4 339.8L38 337.8L38.8 335.6L39.8 333.5L40.7 331.8L41.7 330.1L42.9 328.4L44.1 326.9L45.3 325.6L46.7 324.2L48.1 322.8L49.5 321.6L51 320.5L52.8 319.3L54.6 318.2L56.4 317.2L58.2 316.4L60.1 315.7L62 315.1L64 314.6L66.2 314.2L68.3 313.9L70.1 313.7L71.9 313.5L73.8 313.3L75.7 313.2L77.7 313L79.7 312.9L81.7 312.8L83.6 312.6L85.6 312.5L87.6 312.3L89.6 312.2L91.6 312.1L93.6 311.9L95.6 311.7L97.6 311.6L99.6 311.4L101.5 311.2L103.5 311L105.4 310.8L107.5 310.5L109.5 310.2L111.5 309.9L113.4 309.5L115.4 309.1L117.4 308.6L119.3 308.1L121.2 307.6L123.1 307L125.1 306.4L127 305.7L128.9 305L130.7 304.4L132.6 303.7L134.4 302.9L136.3 302.2L138.1 301.5L140 300.7L141.8 300L143.7 299.2L145.5 298.5L147.4 297.7L149.2 297L151.1 296.2L152.9 295.5L154.8 294.8L156.7 294.2L158.6 293.5L160.5 292.9L162.5 292.3L164.4 291.8L166.2 291.3L168.1 290.8L170 290.3L172 289.9L174 289.5L175.8 289.2L177.6 288.9L179.5 288.7L181.6 288.6L183.8 288.5L186 288.6L188 288.9L189.9 289.2L191.7 289.6L193.7 290.1L195.8 290.8L197.7 291.5L199.4 292.3L201.1 293.2L202.9 294.2L204.6 295.3L206.2 296.4L207.8 297.5L209.4 298.8L210.9 300L212.3 301.3L213.8 302.6L215.2 304.1L216.7 305.6L218 307L219.3 308.5L220.5 310L221.8 311.5L223 313L224.1 314.6L225.2 316.2L226.4 317.8L227.4 319.5L228.4 321.2L229.4 323.1L230.3 325.2L231.1 327.1L231.8 329L232.4 330.8L233 332.5L233.5 334.4L234 336.3L234.5 338.2L234.9 340L235.3 341.8L235.6 343.5L235.8 345.4L236 347.7L236 350.4L235.9 352.7L235.6 354.6L235.4 356.3L235 358.2L234.6 360L234.2 361.8L233.7 363.7L233.2 365.7L232.6 367.7L231.9 369.6L231.3 371.4L230.6 373.3L229.9 375.1L229.2 376.8L228.4 378.6L227.6 380.4L226.7 382.3L225.8 384L224.7 385.8L223.5 387.7L222.3 389.4L221.1 391L220 392.4L218.8 393.7L217.5 395.2L216.1 396.8L214.7 398.2L213.3 399.5L211.8 400.8L210.2 402.1L208.5 403.3L206.9 404.4L205.3 405.4L203.5 406.4L201.6 407.4L199.9 408.1L198.1 408.8L196.2 409.5L194.2 410.1L192.3 410.5L190.4 410.8L188.3 411.1L186.3 411.3L184.4 411.4L182.4 411.3L180.3 411.2L178.3 411L176.4 410.7L174.3 410.3L172.3 409.8L170.4 409.3L168.6 408.8L166.7 408.2L164.9 407.6L163 407L161.1 406.3L159.3 405.7L157.4 405L155.5 404.4L153.6 403.8L151.8 403.1L149.9 402.4L147.9 401.7L146 400.9L144.2 400.2L142.4 399.5L140.6 398.7L138.7 398L136.8 397.3L134.9 396.6L133.1 395.9L131.2 395.2L129.3 394.6L127.4 394L125.5 393.4L123.6 392.8L121.7 392.2L119.8 391.7L117.9 391.2L116 390.7L114 390.2L112 389.8L109.9 389.4L107.9 389.1L105.9 388.8L103.9 388.6L102 388.3L100.1 388.1L98.1 387.9L96.1 387.6L94.1 387.4L92.1 387.1L90.2 386.9L88.2 386.6L86.2 386.4L84.2 386.1L82.2 385.9L80.2 385.6L78.3 385.4L76.3 385.1L74.3 384.9L72.3 384.7L70.4 384.4L68.5 384.2L66.7 384L65 383.7L63.4 383.5L62 383.3L60.8 383.1L56.5 382.2L52.8 380L51.7 379.3L50.5 378.4L49.2 377.3L48 376.3L46.8 375.1L45.4 373.8L44.2 372.5L43 371.1L41.8 369.6L40.5 368L39.5 366.4L38.6 365L37.8 363.3Z" fill="none" stroke="#00ff00" stroke-width="1.5" stroke-linejoin="round"/>
<path d="M35.1 360.8L34.7 358.1L34.5 356.2L34.5 354.7L34.5 353L34.5 351.1L34.6 349.2L34.8 347.3L35 345.5L35.3 343.7L35.7 341.8L36.1 340L36.6 338.1L37.4 335.9L38.4 333.7L39.4 331.8L40.3 330.3L41.5 328.6L42.7 327L43.8 325.6L45 324.3L46.4 322.9L47.8 321.6L49.3 320.4L50.9 319.1L52.6 317.9L54.2 317L56 316.1L58.1 315.1L60.4 314.4L62.3 313.8L64.1 313.4L66.1 313.1L68 312.8L69.9 312.6L71.7 312.4L73.6 312.2L75.6 312L77.5 311.8L79.5 311.6L81.5 311.4L83.5 311.2L85.5 311L87.5 310.8L89.5 310.5L91.5 310.3L93.5 310L95.4 309.7L97.4 309.4L99.4 309.1L101.3 308.8L103.3 308.5L105.2 308.2L107.2 307.8L109.2 307.4L111.2 307L113.1 306.5L115 306L117 305.5L118.9 304.9L120.8 304.4L122.7 303.7L124.6 303.1L126.5 302.4L128.4 301.7L130.2 300.9L132.1 300.2L133.9 299.4L135.8 298.6L137.6 297.8L139.4 297L141.2 296.1L143 295.3L144.9 294.5L146.7 293.7L148.5 292.9L150.3 292.2L152.2 291.4L154 290.6L155.9 289.9L157.7 289.2L159.7 288.5L161.6 287.9L163.5 287.2L165.4 286.7L167.2 286.1L169.1 285.6L171 285.1L173 284.6L175 284.2L176.8 283.9L178.5 283.6L180.4 283.4L182.5 283.2L184.7 283.2L186.9 283.3L189.1 283.5L191.1 283.9L192.9 284.3L194.8 284.9L196.8 285.6L198.6 286.2L200.3 287L202.2 287.9L204 288.9L205.7 289.9L207.3 290.9L208.9 292L210.5 293.2L212.1 294.3L213.6 295.5L215.1 296.7L216.7 298L218.1 299.4L219.5 300.7L220.8 302.1L222.2 303.7L223.7 305.5L225 307.1L226.1 308.7L227.1 310.3L228.2 311.9L229.2 313.6L230.2 315.2L231.2 316.9L232.1 318.7L233 320.5L233.9 322.3L234.7 324.1L235.5 325.9L236.3 327.9L237 329.8L237.6 331.6L238.2 333.4L238.8 335.2L239.3 337.2L239.8 339.1L240.1 340.9L240.5 342.7L240.7 344.7L240.9 346.9L240.9 349.3L240.8 351.6L240.6 353.6L240.3 355.4L240 357.2L239.6 359.1L239.1 361L238.7 362.9L238.1 364.8L237.5 366.8L236.9 368.7L236.3 370.6L235.7 372.4L235.1 374.2L234.4 375.9L233.8 377.7L233.1 379.5L232.2 381.4L231.3 383.3L230.2 385.3L229 387.3L227.9 388.9L226.8 390.4L225.7 391.9L224.6 393.4L223.3 394.9L222 396.5L220.8 397.9L219.5 399.3L218.1 400.8L216.7 402.2L215.2 403.6L213.8 404.9L212.3 406.1L210.5 407.5L208.8 408.7L207.2 409.7L205.6 410.7L203.9 411.7L202.1 412.6L200.4 413.4L198.6 414.1L196.6 414.8L194.6 415.5L192.7 415.9L190.8 416.3L188.7 416.6L186.7 416.8L184.8 416.9L182.8 416.9L180.6 416.8L178.6 416.6L176.7 416.3L174.8 416L172.9 415.6L171 415.1L169.1 414.6L167 413.9L165.1 413.3L163.3 412.6L161.5 411.9L159.7 411.2L157.8 410.5L156 409.8L154.2 409L152.3 408.3L150.5 407.5L148.6 406.7L146.8 405.9L144.9 405.1L143.1 404.3L141.3 403.5L139.5 402.7L137.6 401.9L135.8 401.1L133.9 400.4L132.1 399.6L130.2 398.9L128.3 398.2L126.5 397.5L124.6 396.9L122.7 396.2L120.8 395.6L118.8 395L117 394.4L115.1 393.8L113.2 393.3L111.3 392.8L109.4 392.3L107.3 391.9L105.2 391.5L103.2 391.1L101.2 390.8L99.3 390.5L97.4 390.2L95.4 389.9L93.5 389.6L91.5 389.4L89.5 389.1L87.5 388.8L85.6 388.5L83.6 388.2L81.6 387.9L79.6 387.6L77.6 387.3L75.7 387.1L73.7 386.8L71.7 386.5L69.8 386.3L67.9 386L66.1 385.8L64.3 385.5L62.6 385.3L61.1 385L59.8 384.8L58.5 384.5L55 383.7L51.5 381.5L50.7 380.9L49.7 380.2L48.5 379.2L47.2 378.2L46 377.1L44.7 375.9L43.4 374.6L42.1 373.3L40.9 372L39.7 370.4L38.3 368.5L37.3 366.7L36.6 365.3L35.9 363.5Z" fill="none" stroke="#0000ff" stroke-width="1.5" stroke-linejoin="round"/>
<path d="M32.9 361.8L32.5 359.2L32.3 357.3L32.2 355.6L32.2 353.8L32.3 351.8L32.5 349.7L32.7 347.9L32.9 346.1L33.2 344.2L33.6 342.4L34 340.7L34.5 338.9L35.1 336.9L36.1 334.5L37.1 332.4L38 330.8L39 329.3L40.2 327.6L41.5 326L42.7 324.6L43.9 323.2L45.3 321.8L46.7 320.5L48 319.4L49.5 318.2L51.2 316.9L52.9 315.8L54.8 314.8L57.1 313.8L59.3 313.1L61.2 312.6L62.9 312.2L64.8 311.8L66.7 311.5L68.5 311.2L70.4 311L72.3 310.7L74.3 310.4L76.2 310.2L78.2 309.9L80.2 309.6L82.2 309.3L84.3 308.9L86.2 308.5L88.1 308.1L90.1 307.7L92 307.3L94 306.9L95.9 306.5L97.9 306.1L99.8 305.7L101.8 305.3L103.7 304.9L105.6 304.5L107.6 304L109.7 303.5L111.6 303L113.5 302.5L115.4 301.9L117.3 301.3L119.2 300.6L121.1 299.9L122.9 299.2L124.8 298.5L126.7 297.7L128.6 296.9L130.4 296L132.1 295.2L133.9 294.4L135.7 293.5L137.6 292.6L139.4 291.8L141.2 290.9L143 290L144.8 289.2L146.5 288.3L148.4 287.5L150.2 286.6L152 285.8L153.9 285L155.7 284.2L157.5 283.5L159.4 282.8L161.3 282.1L163.2 281.4L165 280.8L166.8 280.2L168.6 279.7L170.5 279.1L172.7 278.6L174.9 278.2L176.8 277.9L178.5 277.7L180.5 277.5L182.6 277.4L184.6 277.4L186.6 277.5L188.6 277.7L190.7 277.9L192.6 278.3L194.5 278.7L196.5 279.2L198.4 279.9L200.2 280.5L202.1 281.3L204 282.2L205.8 283.1L207.5 284L209.1 285L210.9 286.1L212.5 287.3L214.1 288.4L215.6 289.6L217.2 290.8L218.7 292.2L220.2 293.5L221.6 294.8L223 296.2L224.4 297.6L225.8 299.1L227.1 300.7L228.4 302.2L229.5 303.7L230.8 305.4L232 307.2L233.1 308.9L234 310.5L235 312.2L236 314L236.9 315.7L237.7 317.4L238.6 319.2L239.4 321L240.2 323L241 324.9L241.6 326.8L242.2 328.6L242.8 330.5L243.3 332.4L243.7 334.3L244.2 336.2L244.6 338.2L244.9 340.2L245.1 342.1L245.3 344.2L245.4 346.3L245.4 348.4L245.3 350.4L245.1 352.4L244.9 354.3L244.7 356.1L244.4 358.2L243.9 360.3L243.5 362.2L243 364.2L242.4 366.1L241.9 368L241.3 369.9L240.7 371.7L240 373.6L239.4 375.4L238.8 377.3L238.1 379.1L237.4 380.9L236.7 382.8L235.9 384.7L235 386.6L234.1 388.4L233.2 390.1L232.2 391.8L231.1 393.6L229.9 395.4L228.8 397L227.6 398.5L226.4 400L225 401.6L223.6 403.1L222.3 404.5L221 405.9L219.6 407.2L218.1 408.6L216.5 409.9L215 411.1L213.6 412.3L212 413.5L210.2 414.7L208.5 415.8L206.9 416.7L205.2 417.7L203.2 418.6L201.3 419.4L199.5 420.1L197.7 420.7L195.7 421.3L193.8 421.8L191.9 422.1L189.9 422.4L187.7 422.7L185.7 422.8L183.8 422.8L181.8 422.8L179.9 422.7L178 422.5L176 422.2L173.9 421.9L171.9 421.4L170 420.9L168 420.4L166 419.7L164.2 419.1L162.4 418.4L160.6 417.7L158.8 416.9L156.9 416.2L155.1 415.4L153.3 414.6L151.5 413.8L149.6 413L147.8 412.1L146 411.3L144.2 410.4L142.4 409.6L140.6 408.7L138.7 407.9L136.9 407L135.1 406.2L133.2 405.4L131.4 404.7L129.5 403.9L127.7 403.2L125.8 402.4L124 401.7L122.1 401L120.2 400.3L118.4 399.7L116.5 399L114.6 398.4L112.6 397.8L110.6 397.2L108.6 396.7L106.7 396.2L104.8 395.8L102.9 395.3L100.9 394.9L99 394.5L97 394.1L95 393.7L93.1 393.3L91.1 393L89.2 392.6L87.2 392.2L85.2 391.8L83.2 391.5L81.3 391.1L79.3 390.8L77.3 390.4L75.4 390L73.4 389.7L71.4 389.3L69.5 389L67.5 388.6L65.6 388.3L63.8 388L62.1 387.6L60.6 387.3L59.3 387.1L58.1 386.8L53.7 385.9L50.2 383.9L49.8 383.7L48.9 383L47.8 382.3L46.5 381.3L45.2 380.3L44 379.3L42.6 378L41 376.5L39.7 375L38.5 373.5L37.4 372L36.2 370.1L35.2 368.3L34.5 366.8L33.9 365.3L33.3 363.1Z" fill="none" stroke="#000000" stroke-width="1.5" stroke-linejoin="round"/>
<path d="M28.4 362.3L28 359.8L27.9 357.8L27.8 356.2L27.8 354.4L27.9 352.4L28.1 350.3L28.4 348.4L28.8 346.4L29.3 344.3L29.8 342.4L30.4 340.7L31 338.9L31.7 337L32.5 335.2L33.3 333.5L34.1 332L35 330.3L36.3 328.3L37.7 326.3L38.9 324.8L40.1 323.4L41.4 322.1L42.9 320.7L44.3 319.4L45.8 318.2L47.6 317L49.4 315.8L51.1 314.8L52.7 313.9L54.4 313L56.2 312.2L58 311.5L59.8 310.8L61.9 310.1L64.1 309.5L66.1 309L67.9 308.6L69.8 308.2L71.7 307.9L73.6 307.5L75.5 307.1L77.5 306.8L79.4 306.4L81.4 306L83.4 305.6L85.3 305.2L87.3 304.8L89.2 304.4L91.2 304L93.1 303.6L95 303.2L96.9 302.8L98.9 302.3L101 301.8L103 301.2L104.9 300.7L106.8 300.1L108.6 299.5L110.5 298.9L112.3 298.2L114.2 297.6L116.1 296.8L118 296.1L119.9 295.3L121.6 294.5L123.5 293.6L125.3 292.6L127.1 291.7L128.9 290.7L130.6 289.8L132.3 288.8L134 287.8L135.8 286.9L137.5 285.9L139.3 284.9L141 283.9L142.8 283L144.5 282L146.3 281.1L148 280.1L149.8 279.2L151.5 278.2L153.3 277.3L155.1 276.4L156.8 275.6L158.6 274.8L160.4 274L162.2 273.2L164 272.5L165.9 271.8L168 271.2L170.1 270.6L172.1 270.2L174.1 269.8L176 269.6L177.7 269.4L179.6 269.2L181.7 269.2L183.9 269.2L185.8 269.2L187.8 269.4L189.8 269.6L191.8 270L193.7 270.4L195.6 270.8L197.6 271.4L199.5 272L201.3 272.7L203.2 273.5L205.1 274.3L206.9 275.2L208.6 276.1L210.3 277L212.1 278.1L213.8 279.1L215.4 280.2L217 281.3L218.6 282.5L220.2 283.7L221.7 284.9L223.2 286.1L224.8 287.5L226.4 289L227.8 290.4L229.1 291.8L230.4 293.2L231.8 294.7L233.1 296.2L234.3 297.8L235.5 299.3L236.6 300.8L237.7 302.5L238.9 304.3L240 306.2L241.1 308L242 309.8L242.8 311.5L243.7 313.2L244.5 314.9L245.4 316.7L246.2 318.4L247 320.2L247.9 322L248.7 323.8L249.4 325.6L250.1 327.5L250.8 329.5L251.4 331.5L251.9 333.4L252.3 335.4L252.7 337.4L252.9 339.5L253.2 341.4L253.3 343.3L253.4 345.3L253.4 347.3L253.4 349.2L253.4 351.2L253.2 353.2L253 355.2L252.8 357.2L252.4 359.3L252 361.4L251.6 363.3L251.2 365.2L250.7 367L250.1 368.9L249.6 370.7L249 372.5L248.3 374.4L247.5 376.4L246.7 378.3L245.8 380.3L244.9 382.1L244 383.9L243 385.5L242.1 387.2L241.1 388.9L240.1 390.6L239.1 392.3L238.1 394L237.1 395.7L236.1 397.4L235 399.1L233.9 400.8L232.8 402.5L231.5 404.2L230.3 405.8L229.2 407.2L228 408.7L226.7 410.2L225.2 411.8L223.7 413.3L222.3 414.7L220.9 415.9L219.4 417.2L217.8 418.5L216.1 419.7L214.6 420.8L213 421.9L211.2 423L209.4 424L207.7 424.9L206 425.8L204.1 426.6L202.2 427.4L200.3 428.1L198.5 428.7L196.7 429.2L194.7 429.8L192.9 430.2L190.9 430.6L188.7 430.9L186.6 431.1L184.6 431.2L182.7 431.2L180.8 431.2L178.9 431.2L177 431L175.1 430.8L173.1 430.5L171.2 430.2L169.1 429.6L166.8 428.9L164.6 428.2L162.9 427.5L161.2 426.8L159.6 426.1L157.8 425.3L156.1 424.5L154.3 423.7L152.5 422.8L150.6 421.9L148.8 421L147 420.1L145.2 419.2L143.5 418.3L141.7 417.3L140 416.4L138.2 415.5L136.4 414.6L134.6 413.7L132.8 412.7L131 411.9L129.2 411L127.4 410.2L125.6 409.4L123.7 408.5L121.9 407.8L120.1 407L118.2 406.2L116.4 405.4L114.5 404.6L112.7 403.8L110.9 403L109.1 402.2L107.3 401.4L105.6 400.7L103.8 400L102 399.3L100 398.6L97.7 397.9L95.6 397.3L93.7 396.9L91.8 396.5L90 396.1L88 395.8L86.1 395.5L84.1 395.2L82.2 394.9L80.2 394.6L78.2 394.3L76.2 394L74.3 393.7L72.3 393.4L70.3 393.1L68.4 392.8L66.5 392.6L64.7 392.3L63 392.1L61.6 391.9L60.4 391.8L59.4 391.7L51.7 390L50.8 389.6L49.6 389.1L48.3 388.4L46.9 387.7L45.4 386.8L43.7 385.7L42 384.4L40.6 383.2L39.3 382.1L37.9 380.7L36.4 379L35.1 377.4L34.1 376L33.1 374.4L32 372.4L31 370.4L30.3 368.7L29.8 367.3L29.3 365.7L28.7 363.6Z" fill="none" stroke="#ff0000" stroke-width="1.5" stroke-linejoin="round"/>
<path d="M27.5 261.5V439.5H253.5M39 439.5v-1.8M69.5 439.5v-1.8M100.1 439.5v-1.8M130.7 439.5v-1.8M161.3 439.5v-1.8M191.9 439.5v-1.8M222.6 439.5v-1.8M253.3 439.5v-1.8M27.5 288.3h1.8M27.5 318.9h1.8M27.5 349.5h1.8M27.5 380.1h1.8M27.5 410.6h1.8" fill="none" stroke="#4d4d4d" stroke-width="0.55"/>
<text class="tk" x="39" y="449.9" text-anchor="middle">-5</text>
<text class="tk" x="69.5" y="449.9" text-anchor="middle">0</text>
<text class="tk" x="100.1" y="449.9" text-anchor="middle">5</text>
<text class="tk" x="130.7" y="449.9" text-anchor="middle">10</text>
<text class="tk" x="161.3" y="449.9" text-anchor="middle">15</text>
<text class="tk" x="191.9" y="449.9" text-anchor="middle">20</text>
<text class="tk" x="222.6" y="449.9" text-anchor="middle">25</text>
<text class="tk" x="253.3" y="449.9" text-anchor="middle">30</text>
<text class="tk" x="24.6" y="290.9" text-anchor="end">10</text>
<text class="tk" x="24.6" y="321.5" text-anchor="end">5</text>
<text class="tk" x="24.6" y="352.1" text-anchor="end">0</text>
<text class="tk" x="24.6" y="382.7" text-anchor="end">-5</text>
<text class="tk" x="24.6" y="413.2" text-anchor="end">-10</text>
<text class="al" x="141" y="458.6" text-anchor="middle"><tspan class="it">x</tspan>(<tspan class="it">m</tspan>)</text>
<text class="al" transform="translate(10.1 350) rotate(-90)" text-anchor="middle"><tspan class="it">y</tspan>(<tspan class="it">m</tspan>)</text>
<rect x="36" y="265.9" width="47.9" height="34.5" fill="#fff" stroke="#666" stroke-width="0.6"/>
<path d="M38.3 270.9h20.6" stroke="#00ff00" stroke-width="1.5"/>
<text class="lg" y="273.1"><tspan class="it al2" x="60.3">α</tspan><tspan x="66.9">=</tspan><tspan x="73.5">0.4</tspan></text>
<path d="M38.3 279.2h20.6" stroke="#0000ff" stroke-width="1.5"/>
<text class="lg" y="281.3"><tspan class="it al2" x="60.3">α</tspan><tspan x="66.9">=</tspan><tspan x="73.5">0.3</tspan></text>
<path d="M38.3 287.5h20.6" stroke="#000000" stroke-width="1.5"/>
<text class="lg" y="289.6"><tspan class="it al2" x="60.3">α</tspan><tspan x="66.9">=</tspan><tspan x="73.5">0.2</tspan></text>
<path d="M38.3 295.8h20.6" stroke="#ff0000" stroke-width="1.5"/>
<text class="lg" y="297.9"><tspan class="it al2" x="60.3">α</tspan><tspan x="66.9">=</tspan><tspan x="73.5">0.1</tspan></text>
<text class="cap" x="132" y="480.6" text-anchor="middle">(c)</text>
</g>
<g class="plot" id="plot-d">
<path d="M367.5 323.3L367.2 321.3L366.9 319.4L366.6 317.4L366.3 315.5L365.9 313.5L365.6 311.6L365.3 309.9L365 308.3L364.7 306.5L364.4 304.6L364.2 302.7L364.2 300.3L364.4 297.7L364.9 295.6L365.6 293.8L366.5 291.8L367.5 290.1L368.5 288.5L369.7 287L371 285.5L372.3 284.2L373.7 282.9L375.3 281.6L376.8 280.4L378.3 279.3L380 278.3L381.9 277.2L383.7 276.3L385.4 275.5L387.2 274.8L389.2 274.1L391.1 273.5L392.9 273L394.9 272.5L396.9 272.1L398.9 271.8L400.9 271.5L402.8 271.3L404.8 271.1L406.8 270.9L408.7 270.8L410.7 270.7L412.7 270.6L414.6 270.5L416.6 270.5L418.6 270.4L420.6 270.4L422.6 270.5L424.6 270.5L426.7 270.6L428.8 270.8L430.7 270.9L432.7 271.1L434.6 271.3L436.6 271.6L438.6 271.8L440.6 272.1L442.5 272.4L444.4 272.7L446.4 273L448.4 273.4L450.4 273.8L452.4 274.3L454.3 274.8L456.2 275.3L458.2 275.8L460.1 276.4L462 277L463.8 277.7L465.7 278.4L467.5 279.1L469.4 279.8L471.1 280.5L472.9 281.4L474.8 282.3L476.7 283.3L478.4 284.3L480.1 285.3L481.7 286.4L483.4 287.6L485 288.7L486.5 289.9L488 291.2L489.6 292.6L491 293.9L492.2 295.1L493.4 296.3L494.5 297.5L495.5 298.6L496.5 299.9L497.9 301.8L499.2 304.4L499.3 307.3L498.4 309.9L497.3 312L496.4 313.5L495.7 314.7L494.8 316L493.9 317.4L492.9 318.9L491.7 320.5L490.6 322.1L489.4 323.7L488.3 325.3L487.1 326.8L485.9 328.4L484.7 330.1L483.5 331.9L482.4 333.5L481.3 335.2L480.3 336.8L479.2 338.5L478.1 340.2L477 341.8L475.9 343.5L474.8 345.2L473.7 346.8L472.6 348.5L471.5 350.2L470.5 351.9L469.4 353.6L468.3 355.3L467.3 357L466.2 358.7L465.1 360.3L464.1 362L463 363.7L461.9 365.4L460.9 367.1L459.8 368.8L458.7 370.5L457.7 372.2L456.7 374L455.7 375.7L454.7 377.4L453.7 379.1L452.6 380.8L451.6 382.6L450.6 384.3L449.5 386L448.5 387.7L447.5 389.4L446.4 391.1L445.4 392.8L444.4 394.5L443.4 396.2L442.4 397.9L441.5 399.6L440.5 401.4L439.6 403.3L438.7 405.1L437.9 406.7L437.2 408.2L436.3 409.8L435.3 411.8L434 413.8L432.8 415.5L431.5 417.2L430.2 418.7L428.9 420L427.5 421.3L425.9 422.6L424.4 423.8L422.9 424.9L421.3 425.9L419.5 427L417.7 427.9L416 428.7L414 429.4L411.9 430.1L410 430.6L408.2 430.9L406.4 431.2L404.7 431.4L403.1 431.5L400.9 431.4L398.2 431.1L395.9 430.6L394.2 430.1L392.4 429.4L390.6 428.6L388.8 427.7L387.3 426.7L385.7 425.7L384.2 424.7L382.9 423.7L381.5 422.5L379.9 421L378.3 419.3L377.1 417.7L376 416.1L375 414.2L374.2 412.4L373.6 410.7L373 408.7L372.5 406.6L372.2 404.5L372.1 402.5L372.1 400.3L372.1 398.3L372.2 396.5L372.4 394.7L372.5 392.9L372.7 391L372.9 389.2L373 387.5L373.1 385.9L373.2 384.6L373.3 383.5L373.5 379L373.1 374L373 373L372.9 371.8L372.8 370.4L372.7 368.7L372.5 366.9L372.3 365L372.1 363.1L371.9 361.1L371.7 359.1L371.5 357.1L371.3 355.1L371 353.1L370.8 351.1L370.6 349.2L370.4 347.2L370.1 345.2L369.9 343.2L369.7 341.2L369.4 339.2L369.2 337.2L369 335.2L368.7 333.3L368.5 331.3L368.3 329.3L368 327.3L367.8 325.3Z" fill="none" stroke="#00ff00" stroke-width="1.5" stroke-linejoin="round"/>
<path d="M361.7 320L361.3 318.1L360.9 316.2L360.5 314.3L360.1 312.6L359.8 310.7L359.5 308.8L359.2 306.8L359.1 305L359 302.9L359.2 300.6L359.5 298.5L360 296.6L360.8 294.3L361.8 292.2L362.8 290.5L363.8 289.1L364.9 287.6L366 286.1L367.2 284.8L368.6 283.3L370.1 281.9L371.6 280.5L373 279.4L374.6 278.2L376.3 277L378.1 275.9L379.8 274.9L381.5 274.1L383.4 273.2L385.3 272.4L387 271.7L388.9 271.1L390.8 270.4L392.8 269.9L394.7 269.4L396.6 269L398.6 268.6L400.7 268.3L402.7 268L404.6 267.8L406.5 267.5L408.5 267.3L410.4 267.1L412.4 267L414.3 266.8L416.4 266.7L418.4 266.6L420.5 266.5L422.5 266.5L424.5 266.6L426.5 266.6L428.5 266.7L430.5 266.8L432.4 267L434.4 267.1L436.4 267.3L438.4 267.6L440.4 267.8L442.4 268.1L444.3 268.3L446.2 268.7L448.3 269L450.3 269.5L452.3 269.9L454.2 270.4L456.1 270.9L458.1 271.4L460 272L461.8 272.6L463.7 273.3L465.6 274L467.5 274.7L469.3 275.4L471.1 276.2L472.9 277L474.8 277.9L476.7 278.8L478.4 279.7L480.1 280.7L481.8 281.7L483.5 282.8L485.2 283.9L486.8 285L488.4 286.1L490 287.4L491.5 288.6L493 289.8L494.5 291.2L496 292.6L497.4 294.1L498.6 295.4L499.7 296.7L500.8 297.9L501.7 299.1L502.6 300.3L503.8 302.2L505.1 305.2L504.8 308.3L503.9 310.6L503 312.4L502.2 313.9L501.4 315.2L500.5 316.5L499.6 318L498.5 319.5L497.3 321.2L496.1 322.8L494.9 324.4L493.7 325.9L492.5 327.4L491.3 329L490.1 330.6L488.8 332.2L487.6 333.8L486.4 335.4L485.3 337L484.1 338.6L482.9 340.2L481.7 341.9L480.6 343.5L479.4 345.1L478.3 346.8L477.1 348.4L476 350.1L474.9 351.7L473.7 353.4L472.6 355L471.5 356.7L470.4 358.4L469.2 360L468.1 361.7L467 363.3L465.8 365L464.7 366.6L463.6 368.2L462.4 369.9L461.3 371.5L460.1 373.2L459 374.9L458 376.6L456.9 378.3L455.9 380L454.8 381.7L453.7 383.4L452.7 385.1L451.6 386.8L450.6 388.5L449.5 390.2L448.4 391.9L447.4 393.6L446.3 395.2L445.3 396.9L444.3 398.5L443.3 400.2L442.2 401.9L441.2 403.8L440.2 405.7L439.4 407.3L438.7 408.8L437.9 410.4L436.8 412.4L435.6 414.4L434.4 416.2L433.2 417.7L432 419.2L430.8 420.5L429.4 421.9L427.8 423.4L426.2 424.7L424.7 425.8L423.1 426.8L421.2 427.9L419.4 428.9L417.7 429.6L415.9 430.3L413.8 431L411.7 431.6L409.9 432L408.2 432.3L406.4 432.6L404.8 432.7L403.1 432.9L400.8 432.8L397.9 432.6L395.6 432.1L393.9 431.6L392.2 431.1L390.5 430.4L388.7 429.7L387.1 429L385.5 428.1L383.7 427.1L381.9 426L380.5 424.9L379.1 423.9L377.6 422.5L376 420.9L374.8 419.5L373.7 417.9L372.6 415.8L371.7 413.7L371.1 411.8L370.7 409.7L370.4 407.4L370.3 405.4L370.3 403.6L370.3 401.8L370.4 400L370.4 398.1L370.5 396.2L370.6 394.3L370.7 392.3L370.8 390.4L370.9 388.6L370.9 387L371 385.6L371.1 384.4L371.1 383.4L371.3 378.3L370.7 373.8L370.6 372.7L370.4 371.4L370.2 369.9L369.9 368.2L369.7 366.3L369.4 364.4L369.1 362.4L368.8 360.4L368.5 358.5L368.2 356.5L367.9 354.5L367.5 352.5L367.2 350.6L366.9 348.6L366.5 346.6L366.2 344.6L365.9 342.7L365.6 340.7L365.2 338.7L364.9 336.7L364.6 334.8L364.2 332.8L363.9 330.8L363.5 328.8L363.1 326.9L362.7 324.9L362.3 322.9L361.9 321Z" fill="none" stroke="#0000ff" stroke-width="1.5" stroke-linejoin="round"/>
<path d="M357.8 320.4L356.1 316.2L355.7 315.3L355.3 314.2L354.9 313L354.4 311.6L353.9 310L353.4 308.3L352.9 306.2L352.6 303.7L352.6 301.5L352.8 299.4L353.3 297L354.1 295L354.8 293.4L355.6 291.8L356.6 290.1L357.6 288.5L358.7 287L360 285.4L361.3 283.8L362.7 282.4L364 281.1L365.4 279.8L367 278.4L368.5 277.2L370 276.1L371.6 275L373.3 273.8L375.1 272.7L376.8 271.8L378.4 270.9L380.3 270L382.2 269.1L384.1 268.3L385.8 267.7L387.7 267L389.6 266.4L391.6 265.9L393.5 265.4L395.4 264.9L397.4 264.6L399.5 264.2L401.5 263.9L403.4 263.7L405.4 263.5L407.3 263.3L409.3 263.2L411.3 263.1L413.2 262.9L415.2 262.9L417.2 262.8L419.2 262.7L421.2 262.7L423.2 262.7L425.2 262.8L427.3 262.8L429.3 262.9L431.3 263L433.2 263.1L435.2 263.3L437.2 263.4L439.2 263.6L441.1 263.8L443 264L445 264.3L447 264.5L449.1 264.9L451.2 265.3L453.1 265.8L455 266.2L456.9 266.8L458.9 267.3L460.8 267.9L462.6 268.5L464.5 269.1L466.4 269.8L468.2 270.5L470.1 271.2L471.9 271.9L473.8 272.7L475.7 273.5L477.5 274.4L479.3 275.3L481 276.1L482.8 277.1L484.6 278.1L486.3 279.1L488 280.1L489.6 281.1L491.3 282.2L493 283.4L494.6 284.5L496.1 285.6L497.7 286.8L499.2 288.1L500.8 289.4L502.2 290.7L503.5 292L504.9 293.5L506.2 295L507.3 296.4L508.3 297.8L509.3 299.3L510.2 301L511.1 302.9L511.8 305.2L512 307.4L511.8 309.6L510.9 312.3L509.8 314.5L508.9 315.9L508.1 317.2L507.2 318.5L506.1 319.9L505 321.4L503.7 323L502.4 324.6L501.1 326L499.9 327.5L498.6 329L497.3 330.4L495.9 331.9L494.6 333.4L493.3 334.9L492 336.4L490.7 337.9L489.3 339.4L488 341L486.8 342.5L485.5 344.1L484.3 345.6L483 347.2L481.8 348.8L480.6 350.4L479.4 351.9L478.2 353.5L476.9 355.1L475.7 356.7L474.5 358.3L473.3 359.9L472.1 361.5L470.9 363.1L469.7 364.7L468.5 366.3L467.3 367.9L466.1 369.5L464.9 371.1L463.8 372.8L462.6 374.4L461.5 376.1L460.4 377.7L459.3 379.4L458.2 381.1L457.1 382.7L456.1 384.4L455 386L453.9 387.7L452.8 389.4L451.6 391.1L450.5 392.7L449.4 394.3L448.3 395.9L447.2 397.7L446.1 399.4L445.1 401.1L444.1 402.9L443.2 404.7L442.3 406.4L441.4 408.1L440.6 409.7L439.7 411.3L438.8 413.1L437.7 414.8L436.6 416.6L435.2 418.5L433.7 420.2L432.4 421.6L431.1 422.8L429.8 424.1L428.3 425.3L426.9 426.4L425.5 427.5L423.6 428.7L421.6 429.9L419.8 430.8L418 431.5L416 432.2L413.9 432.9L412 433.3L410.2 433.7L408.4 434L406.7 434.2L405.1 434.4L403.4 434.6L401.3 434.6L398.6 434.5L396.1 434.2L394.2 433.8L392.5 433.3L390.6 432.7L388.8 432L387.1 431.2L385.5 430.5L383.8 429.6L382 428.6L380.5 427.7L379.1 426.7L377.5 425.6L375.7 424.1L374.1 422.5L373 421.2L372 419.8L370.8 418L369.7 416L369 414.1L368.5 412.1L368.1 409.7L367.9 407.5L367.9 405.6L367.9 403.7L368 401.9L368.1 400.2L368.3 398.4L368.4 396.7L368.5 394.9L368.6 393L368.7 390.7L368.6 388.3L368.4 386.1L368.2 384.1L367.9 382.3L367.6 380.4L367.3 378.6L366.9 376.6L366.6 374.7L366.2 372.7L365.9 370.8L365.6 368.8L365.3 366.8L364.9 364.8L364.6 362.9L364.3 360.9L364 358.9L363.6 356.9L363.3 355L363 353L362.7 351L362.3 349.1L362 347.1L361.7 345.1L361.4 343.1L361 341.2L360.7 339.2L360.4 337.2L360.1 335.2L359.8 333.3L359.5 331.4L359.2 329.7L359 328L358.7 326.6L358.6 325.4L358.4 324.4Z" fill="none" stroke="#000000" stroke-width="1.5" stroke-linejoin="round"/>
<path d="M348.6 320L346.9 316.1L346.6 315.3L346.2 314.3L345.7 312.8L345.2 311L344.8 309.1L344.5 307.1L344.3 304.8L344.3 302.6L344.4 300.9L344.7 299L345.1 296.8L345.7 294.8L346.3 293.1L347 291.4L348 289.5L349 287.6L350 286.1L351 284.6L352.2 283L353.7 281.3L355.1 279.8L356.4 278.5L357.8 277.2L359.4 275.9L361.1 274.6L362.6 273.4L364.2 272.3L365.8 271.2L367.5 270.2L369.2 269.1L370.8 268.2L372.5 267.2L374.3 266.2L376.2 265.3L378 264.4L379.8 263.6L381.6 262.9L383.5 262.2L385.5 261.5L387.4 260.8L389.2 260.3L391.1 259.7L393 259.2L395 258.7L396.9 258.3L398.8 258L400.9 257.6L403 257.3L405 257.1L406.9 256.9L408.9 256.7L410.9 256.6L412.9 256.5L414.8 256.4L416.8 256.4L418.8 256.3L420.8 256.3L422.8 256.3L424.8 256.3L426.8 256.4L428.8 256.4L430.8 256.5L432.8 256.6L434.8 256.7L436.8 256.8L438.8 257L440.8 257.2L442.7 257.4L444.6 257.6L446.6 257.9L448.7 258.3L450.8 258.7L452.8 259.1L454.7 259.6L456.6 260.1L458.5 260.6L460.4 261.1L462.3 261.7L464.2 262.3L466.1 263L468 263.7L469.9 264.4L471.7 265.1L473.6 265.9L475.4 266.7L477.2 267.5L479 268.3L480.8 269.1L482.6 270.1L484.5 271L486.2 272L488 273L489.7 274L491.3 275L493 276L494.7 277.1L496.3 278.2L497.9 279.3L499.5 280.5L501.2 281.8L502.9 283.1L504.4 284.4L505.8 285.7L507.2 287L508.7 288.5L510.1 290L511.4 291.4L512.6 292.8L513.8 294.2L515 295.7L516 297.1L517.1 298.6L518.2 300.3L519.3 302.3L520.2 304.2L520.7 305.7L521.1 307L521.5 308.3L521.5 314L520.9 315.4L520.1 316.9L519.1 318.5L518 320.1L517 321.5L515.9 322.8L514.7 324.3L513.4 325.6L512.1 326.9L510.8 328.3L509.3 329.7L507.7 331.1L506.3 332.4L504.8 333.6L503.4 334.8L501.9 336.1L500.4 337.4L499 338.8L497.4 340.3L495.9 341.8L494.5 343.3L493.2 344.8L491.9 346.2L490.6 347.7L489.3 349.2L488.1 350.7L486.8 352.2L485.5 353.7L484.2 355.3L482.9 356.8L481.6 358.3L480.3 359.9L479 361.4L477.8 363L476.5 364.6L475.3 366.2L474.1 367.7L472.9 369.3L471.6 370.9L470.4 372.5L469.2 374.1L468 375.7L466.7 377.2L465.5 378.8L464.2 380.4L463 381.9L461.7 383.5L460.5 385L459.2 386.6L458 388.2L456.8 389.8L455.6 391.4L454.4 393L453.2 394.6L452.1 396.2L451 397.8L449.9 399.4L448.8 401L447.6 402.8L446.5 404.7L445.4 406.5L444.5 408.2L443.6 409.9L442.7 411.5L441.7 413.3L440.7 415L439.7 416.6L438.7 418.3L437.6 419.9L436.5 421.5L435.3 423L434.1 424.4L432.5 426.1L430.9 427.7L429.4 428.9L427.9 430L426.1 431.2L424.2 432.3L422.4 433.2L420.7 434L418.9 434.7L417 435.4L415.2 436L413.4 436.5L411.4 437L409.5 437.4L407.7 437.8L405.8 438.1L403.8 438.3L401.7 438.4L399.6 438.5L397.6 438.4L395.8 438.3L394 438.1L391.9 437.7L389.7 437.1L387.8 436.5L386.1 435.9L384.2 435L382.1 433.9L380.4 432.9L379 431.9L377.6 430.9L376.1 429.6L374.5 428.3L373.2 427L372 425.8L370.8 424.3L369.4 422.4L368.2 420.6L367.3 419L366.6 417.3L365.8 415.1L365.3 412.8L365 410.7L364.8 408.6L364.7 406.7L364.7 405L364.7 403.5L364.7 401.9L364.6 400.1L364.5 397.6L364.1 395L363.8 392.9L363.4 391.1L363 389.3L362.5 387.6L362 385.8L361.6 384L361.1 382L360.6 379.9L360.2 377.8L359.9 375.8L359.6 374L359.2 372L358.9 370.1L358.5 368.1L358.2 366.1L357.8 364.1L357.4 362.2L357 360.2L356.6 358.3L356.2 356.3L355.8 354.4L355.4 352.4L355 350.4L354.5 348.5L354.1 346.5L353.7 344.6L353.3 342.6L352.9 340.6L352.5 338.7L352.1 336.7L351.7 334.8L351.3 332.8L350.9 331L350.5 329.2L350.2 327.6L349.9 326.2L349.7 325L349.4 324Z" fill="none" stroke="#ff0000" stroke-width="1.5" stroke-linejoin="round"/>
<path d="M317.5 256.9V438.5H549M345.6 438.5v-1.8M375.3 438.5v-1.8M405 438.5v-1.8M434.8 438.5v-1.8M464.5 438.5v-1.8M494.2 438.5v-1.8M524 438.5v-1.8M317.5 278.8h1.8M317.5 308.7h1.8M317.5 338.5h1.8M317.5 368.3h1.8M317.5 398h1.8M317.5 427.8h1.8" fill="none" stroke="#4d4d4d" stroke-width="0.55"/>
<text class="tk" x="345.6" y="448.9" text-anchor="middle">-10</text>
<text class="tk" x="375.3" y="448.9" text-anchor="middle">-5</text>
<text class="tk" x="405" y="448.9" text-anchor="middle">0</text>
<text class="tk" x="434.8" y="448.9" text-anchor="middle">5</text>
<text class="tk" x="464.5" y="448.9" text-anchor="middle">10</text>
<text class="tk" x="494.2" y="448.9" text-anchor="middle">15</text>
<text class="tk" x="524" y="448.9" text-anchor="middle">20</text>
<text class="tk" x="314.6" y="281.4" text-anchor="end">20</text>
<text class="tk" x="314.6" y="311.3" text-anchor="end">15</text>
<text class="tk" x="314.6" y="341.1" text-anchor="end">10</text>
<text class="tk" x="314.6" y="370.9" text-anchor="end">5</text>
<text class="tk" x="314.6" y="400.6" text-anchor="end">0</text>
<text class="tk" x="314.6" y="430.4" text-anchor="end">-5</text>
<text class="al" x="433.5" y="458.3" text-anchor="middle"><tspan class="it">x</tspan>(<tspan class="it">m</tspan>)</text>
<text class="al" transform="translate(302.1 347.3) rotate(-90)" text-anchor="middle"><tspan class="it">y</tspan>(<tspan class="it">m</tspan>)</text>
<rect x="481.9" y="384.6" width="48.4" height="34.7" fill="#fff" stroke="#666" stroke-width="0.6"/>
<path d="M484.2 389.7h20.6" stroke="#00ff00" stroke-width="1.5"/>
<text class="lg" y="391.8"><tspan class="it al2" x="506.2">α</tspan><tspan x="512.8">=</tspan><tspan x="519.4">0.4</tspan></text>
<path d="M484.2 397.9h20.6" stroke="#0000ff" stroke-width="1.5"/>
<text class="lg" y="400"><tspan class="it al2" x="506.2">α</tspan><tspan x="512.8">=</tspan><tspan x="519.4">0.3</tspan></text>
<path d="M484.2 406.2h20.6" stroke="#000000" stroke-width="1.5"/>
<text class="lg" y="408.3"><tspan class="it al2" x="506.2">α</tspan><tspan x="512.8">=</tspan><tspan x="519.4">0.2</tspan></text>
<path d="M484.2 414.5h20.6" stroke="#ff0000" stroke-width="1.5"/>
<text class="lg" y="416.6"><tspan class="it al2" x="506.2">α</tspan><tspan x="512.8">=</tspan><tspan x="519.4">0.1</tspan></text>
<text class="cap" x="422.8" y="480.6" text-anchor="middle">(d)</text>
</g>
</svg>
</body></html>
